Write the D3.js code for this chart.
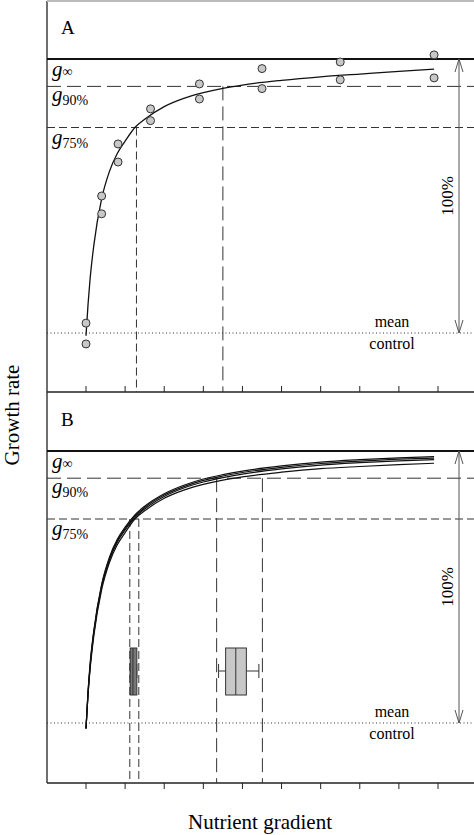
<!DOCTYPE html>
<html><head><meta charset="utf-8">
<script src="https://cdn.jsdelivr.net/npm/d3@7"></script>
<style>body{margin:0;background:#fff} text{font-family:'Liberation Serif','Times New Roman',Times,serif !important}</style>
</head><body><svg id="c" width="474" height="835" font-family="Liberation Serif, Times New Roman, serif"></svg>
<script>
// ---- data (x in gradient units = tick index; y as fraction of g_inf above mean control)
const ticks = [0,1,2,3,4,5,6,7,8,9];
const pointsX = [0,0,0.4,0.4,0.82,0.82,1.65,1.65,2.9,2.9,4.5,4.5,6.5,6.5,8.9,8.9];
const pointsY = [0.036,-0.04,0.50,0.435,0.69,0.624,0.818,0.775,0.909,0.854,0.965,0.892,0.989,0.924,1.015,0.931];
const curveX = [0,0.05,0.1,0.2,0.4,0.6,0.8,1.0,1.25,1.5,2,2.5,3,3.5,4,5,6,7,8,8.9];
const curveA = [-0.01,0.1,0.19,0.32,0.49,0.59,0.655,0.70,0.75,0.78,0.826,0.856,0.877,0.893,0.905,0.922,0.935,0.945,0.955,0.963];
const curvesB = [
  [-0.02,0.1,0.19,0.32,0.49,0.59,0.655,0.70,0.75,0.78,0.826,0.856,0.877,0.893,0.905,0.922,0.935,0.943,0.95,0.955],
  [-0.02,0.11,0.2,0.33,0.5,0.6,0.665,0.71,0.755,0.787,0.833,0.864,0.886,0.902,0.915,0.934,0.948,0.957,0.964,0.968],
  [-0.02,0.1,0.2,0.335,0.505,0.605,0.67,0.715,0.76,0.792,0.838,0.869,0.892,0.908,0.921,0.94,0.954,0.963,0.97,0.974],
  [-0.02,0.11,0.21,0.34,0.51,0.61,0.675,0.72,0.765,0.797,0.843,0.874,0.897,0.913,0.926,0.945,0.959,0.968,0.975,0.979]
];
const dropA = [1.29,3.5];
const dropB = [1.12,1.35,3.34,4.51];
const dropBLevel = [0.75,0.75,0.9,0.9];
const box75 = {lo:1.13,q1:1.13,med:1.2,q3:1.3,hi:1.3};
const box90 = {lo:3.39,q1:3.57,med:3.83,q3:4.1,hi:4.42};

const svg = d3.select("#c");
const FF = "Liberation Serif, Times New Roman, serif";
const x = d3.scaleLinear().domain([0,9]).range([86,438]);
const L=47, R=474;

function panel(top, hdr, zeroY, fullY, bottom, label, tickUp){
  const y = d3.scaleLinear().domain([0,1]).range([zeroY, fullY]);
  const g = svg.append("g").attr("font-family",FF);
  g.append("line").attr("x1",L).attr("x2",L).attr("y1",top).attr("y2",bottom).attr("stroke","#222").attr("stroke-width",1.3);
  g.append("line").attr("x1",L).attr("x2",R).attr("y1",bottom).attr("y2",bottom).attr("stroke","#222").attr("stroke-width",1.5);
  g.append("line").attr("x1",L).attr("x2",R).attr("y1",y(1)).attr("y2",y(1)).attr("stroke","#111").attr("stroke-width",2);
  g.append("text").attr("x",L+14).attr("y",hdr).attr("font-size",19).text(label);
  g.selectAll(".tk").data(ticks).enter().append("line")
    .attr("x1",d=>x(d)).attr("x2",d=>x(d)).attr("y1",bottom).attr("y2",bottom+(tickUp?-6:6))
    .attr("stroke","#222");
  g.append("line").attr("x1",L).attr("x2",R).attr("y1",y(0.9)).attr("y2",y(0.9)).attr("stroke","#333").attr("stroke-dasharray","14,6");
  g.append("line").attr("x1",L).attr("x2",R).attr("y1",y(0.75)).attr("y2",y(0.75)).attr("stroke","#333").attr("stroke-dasharray","8,4");
  g.append("line").attr("x1",L).attr("x2",R).attr("y1",y(0)).attr("y2",y(0)).attr("stroke","#333").attr("stroke-dasharray","1,2.5");
  const gl = [["∞",y(1)+17],["90%",y(0.9)+15],["75%",y(0.75)+16]];
  gl.forEach(([s,yy])=>{
    const t=g.append("text").attr("x",L+5).attr("y",yy).attr("font-size",21);
    t.append("tspan").attr("font-style","italic").text("g");
    t.append("tspan").attr("font-size",14).attr("dy",s==="∞"?0:4).text(s);
  });
  g.append("text").attr("x",392).attr("y",y(0)-6).attr("text-anchor","middle").attr("font-size",16).text("mean");
  g.append("text").attr("x",392).attr("y",y(0)+16).attr("text-anchor","middle").attr("font-size",16).text("control");
  const ax=459;
  g.append("line").attr("x1",ax).attr("x2",ax).attr("y1",y(1)).attr("y2",y(0)).attr("stroke","#555");
  g.append("path").attr("d",`M${ax-4},${y(1)+13}L${ax},${y(1)}L${ax+4},${y(1)+13}`).attr("fill","none").attr("stroke","#555");
  g.append("path").attr("d",`M${ax-4},${y(0)-13}L${ax},${y(0)}L${ax+4},${y(0)-13}`).attr("fill","none").attr("stroke","#555");
  g.append("text").attr("transform",`translate(${ax-6},${(y(0)+y(1))/2}) rotate(-90)`).attr("text-anchor","middle").attr("font-size",17).text("100%");
  return {g,y};
}

const A = panel(1, 34, 333, 59, 392, "A", true);
svg.append("line").attr("x1",L).attr("x2",R).attr("y1",1).attr("y2",1).attr("stroke","#bbb").attr("stroke-width",2);
A.g.append("line").attr("x1",x(dropA[0])).attr("x2",x(dropA[0])).attr("y1",A.y(0.75)).attr("y2",392).attr("stroke","#333").attr("stroke-dasharray","8,4");
A.g.append("line").attr("x1",x(dropA[1])).attr("x2",x(dropA[1])).attr("y1",A.y(0.9)).attr("y2",392).attr("stroke","#333").attr("stroke-dasharray","14,6");
const lineA = d3.line().x(d=>x(d[0])).y(d=>A.y(d[1])).curve(d3.curveMonotoneX);
A.g.append("path").attr("d",lineA(curveX.map((v,i)=>[v,curveA[i]]))).attr("fill","none").attr("stroke","#111").attr("stroke-width",1.3);
A.g.selectAll(".pt").data(pointsX.map((v,i)=>[v,pointsY[i]])).enter().append("circle")
  .attr("cx",d=>x(d[0])).attr("cy",d=>A.y(d[1])).attr("r",4).attr("fill","#c8c8c8").attr("stroke","#333");

const B = panel(392, 426, 723, 451, 783, "B", false);
dropB.forEach((v,i)=>{
  B.g.append("line").attr("x1",x(v)).attr("x2",x(v)).attr("y1",B.y(dropBLevel[i])).attr("y2",783).attr("stroke","#333")
   .attr("stroke-dasharray",dropBLevel[i]==0.9?"14,6":"8,4");
});
const lineB = d3.line().x(d=>x(d[0])).y(d=>B.y(d[1])).curve(d3.curveMonotoneX);
curvesB.forEach(c=>{
  B.g.append("path").attr("d",lineB(curveX.map((v,i)=>[v,c[i]]))).attr("fill","none").attr("stroke","#111").attr("stroke-width",1.2);
});
function box(b, fill){
  const y0=648, y1=695, ym=671;
  B.g.append("line").attr("x1",x(b.lo)).attr("x2",x(b.hi)).attr("y1",ym).attr("y2",ym).attr("stroke","#333");
  [b.lo,b.hi].forEach(v=>B.g.append("line").attr("x1",x(v)).attr("x2",x(v)).attr("y1",ym-7).attr("y2",ym+7).attr("stroke","#333"));
  B.g.append("rect").attr("x",x(b.q1)).attr("width",x(b.q3)-x(b.q1)).attr("y",y0).attr("height",y1-y0).attr("fill",fill).attr("stroke","#333");
  B.g.append("line").attr("x1",x(b.med)).attr("x2",x(b.med)).attr("y1",y0).attr("y2",y1).attr("stroke","#333");
}
box(box75,"#777"); box(box90,"#c8c8c8");

svg.append("text").attr("font-family",FF).attr("transform","translate(19,415) rotate(-90)").attr("text-anchor","middle").attr("font-size",21).text("Growth rate");
svg.append("text").attr("font-family",FF).attr("x",260).attr("y",829).attr("text-anchor","middle").attr("font-size",21).text("Nutrient gradient");
</script></body></html>
